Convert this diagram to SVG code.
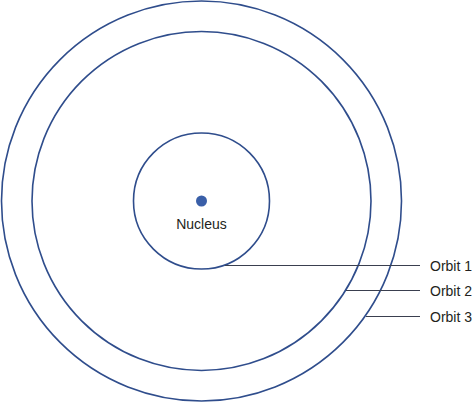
<svg xmlns="http://www.w3.org/2000/svg" width="474" height="402" viewBox="0 0 474 402">
<style>
.orbit{fill:none;stroke:#2f4d8c;stroke-width:1.6}
.lead{stroke:#3a3f4f;stroke-width:1;fill:none}
.lbl{font-family:"Liberation Sans",Arial,sans-serif;font-size:14px;fill:#231f20}
</style>
<rect width="474" height="402" fill="#ffffff"/>
<g id="orbit3"><circle class="orbit" cx="201.5" cy="201" r="200"/></g>
<g id="orbit2"><circle class="orbit" cx="201.5" cy="201" r="169.5"/></g>
<g id="orbit1"><circle class="orbit" cx="201.5" cy="201" r="68"/></g>
<g id="nucleus">
<circle cx="201.5" cy="201" r="5.5" fill="#3a5fa8"/>
<text class="lbl" x="201.5" y="229" text-anchor="middle">Nucleus</text>
</g>
<g id="connectors">
<line class="lead" x1="225" y1="265.5" x2="420" y2="265.5"/>
<line class="lead" x1="346" y1="290.5" x2="420" y2="290.5"/>
<line class="lead" x1="366" y1="316.5" x2="420" y2="316.5"/>
</g>
<g id="labels">
<text class="lbl" x="430" y="270.5">Orbit 1</text>
<text class="lbl" x="430" y="295.5">Orbit 2</text>
<text class="lbl" x="430" y="321.5">Orbit 3</text>
</g>
</svg>
